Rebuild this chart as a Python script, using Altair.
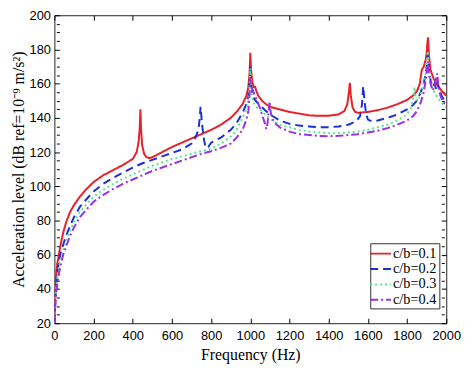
import altair as alt
import pandas as pd

series_names = ["c/b=0.1", "c/b=0.2", "c/b=0.3", "c/b=0.4"]
series_colors = ["#e8202a", "#1a2fd8", "#55e690", "#9a30e6"]
series_dash = [[1, 0], [8, 5], [2, 3], [8, 3, 2, 3]]

x_ticks = [0, 200, 400, 600, 800, 1000, 1200, 1400, 1600, 1800, 2000]
y_ticks = [20, 40, 60, 80, 100, 120, 140, 160, 180, 200]
y_minor = list(range(20, 201, 5))

freq_01 = [0, 3, 6, 10, 15, 20, 30, 45, 60, 80, 100, 130, 160, 200, 250, 300, 350, 400, 420, 430, 436, 439, 442, 448, 458, 470, 485, 500, 550, 600, 650, 700, 750, 800, 850, 900, 930, 960, 980, 990, 996, 1000, 1004, 1010, 1018, 1025, 1030, 1040, 1060, 1080, 1100, 1150, 1200, 1250, 1300, 1350, 1400, 1450, 1480, 1495, 1503, 1508, 1513, 1522, 1535, 1550, 1600, 1650, 1700, 1750, 1800, 1830, 1850, 1865, 1875, 1885, 1895, 1900, 1904, 1907, 1912, 1920, 1935, 1950, 1975, 2000]
acc_01 = [20, 32, 42, 50, 55, 58, 65, 73, 79, 85, 89, 94, 98, 102.5, 106.5, 109.5, 112.5, 116, 120, 126, 135, 145, 134, 124, 119, 117, 116.5, 117, 120, 123, 125.5, 128, 130.5, 133, 136, 140, 143.5, 148, 153, 158, 166, 178, 168, 161, 158, 158, 156, 153, 150, 148, 146.5, 145, 143.5, 142.5, 141.5, 141.2, 141.3, 142, 144, 148, 155, 160.5, 153, 146, 143.5, 143, 143.5, 144.5, 146, 148, 150.5, 153, 155.5, 160, 168, 170, 174, 178, 184, 187, 176, 168, 163, 160, 156, 153]

freq_02 = [0, 3, 6, 10, 15, 20, 30, 45, 60, 80, 100, 130, 160, 200, 250, 300, 350, 400, 450, 500, 550, 600, 650, 700, 720, 735, 742, 746, 750, 756, 764, 772, 785, 800, 850, 900, 930, 960, 980, 990, 996, 1000, 1004, 1010, 1020, 1035, 1050, 1075, 1100, 1150, 1200, 1250, 1300, 1350, 1400, 1450, 1500, 1540, 1560, 1570, 1576, 1582, 1590, 1600, 1620, 1650, 1700, 1750, 1800, 1830, 1850, 1870, 1885, 1895, 1902, 1906, 1912, 1920, 1930, 1940, 1948, 1955, 1965, 1980, 2000]
acc_02 = [20, 30, 38, 45, 50, 54, 60, 66, 71, 77, 82, 88, 92, 97, 101.5, 105, 108, 111, 113.5, 115.5, 117.5, 119.5, 121.5, 125, 128.5, 133, 140, 146.5, 141, 134, 127, 122.5, 123, 125.5, 128.5, 133, 137, 143, 148, 153, 159, 170, 160, 155, 151, 149, 147.5, 144.5, 142, 138.5, 136.5, 135.5, 135, 134.5, 134.5, 135, 136, 138, 141, 148, 158.5, 151, 143, 139, 138, 138.5, 140, 142, 145, 147.5, 150, 155, 160, 166, 172, 177, 168, 162, 158, 160, 157, 161, 156, 152, 149]

freq_03 = [0, 3, 6, 10, 15, 20, 30, 45, 60, 80, 100, 130, 160, 200, 250, 300, 350, 400, 450, 500, 550, 600, 650, 700, 750, 800, 850, 900, 930, 960, 980, 990, 996, 1000, 1004, 1010, 1020, 1035, 1050, 1075, 1100, 1150, 1200, 1250, 1300, 1350, 1400, 1450, 1500, 1550, 1600, 1650, 1700, 1750, 1800, 1820, 1832, 1838, 1845, 1855, 1870, 1885, 1895, 1902, 1906, 1912, 1920, 1935, 1950, 1975, 2000]
acc_03 = [20, 28, 35, 42, 47, 51, 57, 63, 68, 74, 79, 85, 89, 94, 98, 101.5, 104.5, 107, 109.5, 112, 114, 116, 117.5, 119, 120.5, 122, 125, 129, 133, 140, 145, 151, 159, 169, 158, 152, 148, 146, 145, 142, 139.5, 136, 134.5, 133, 132, 131.5, 131, 131, 131.5, 132, 133, 134.5, 136, 138.5, 142, 146, 152, 158, 151, 150, 154, 160, 166, 173, 179, 168, 160, 156, 153, 149, 146]

freq_04 = [0, 3, 6, 10, 15, 20, 30, 45, 60, 80, 100, 130, 160, 200, 250, 300, 350, 400, 450, 500, 550, 600, 650, 700, 750, 800, 850, 900, 930, 960, 980, 990, 996, 1000, 1004, 1010, 1020, 1035, 1050, 1065, 1075, 1082, 1088, 1093, 1098, 1103, 1110, 1125, 1150, 1200, 1250, 1300, 1350, 1400, 1450, 1500, 1550, 1600, 1650, 1700, 1750, 1800, 1830, 1850, 1870, 1885, 1895, 1902, 1906, 1912, 1920, 1930, 1940, 1948, 1954, 1960, 1970, 1985, 2000]
acc_04 = [20, 26, 32, 38, 43, 47, 53, 60, 65, 71, 76, 82, 86, 91, 95, 98.5, 101.5, 104, 106.5, 109, 111, 113, 115, 117, 119, 120.5, 122.5, 125, 128.5, 133, 139, 144, 153, 164, 160, 157, 154, 150, 145.5, 140, 136.5, 133.5, 137, 143, 149.5, 144, 140, 137, 134.5, 132, 130.5, 130, 129.5, 129.3, 129.5, 130, 130.5, 131.5, 132.5, 134, 136, 138.5, 141, 144, 149, 155, 162, 168, 173, 165, 160, 156, 158, 163, 166, 158, 153, 149, 148]

rows = []
for name, fs, vs in zip(series_names,
                        [freq_01, freq_02, freq_03, freq_04],
                        [acc_01, acc_02, acc_03, acc_04]):
    for f, v in zip(fs, vs):
        rows.append({"freq": f, "acc": v, "series": name})
df = pd.DataFrame(rows)

xscale = alt.Scale(domain=[0, 2000], nice=False)
yscale = alt.Scale(domain=[20, 200], nice=False)

lines = alt.Chart(df).mark_line(strokeWidth=2, clip=True).encode(
    x=alt.X("freq:Q", scale=xscale,
            axis=alt.Axis(orient="bottom", values=x_ticks, format="d", ticks=False, domain=False, grid=False,
                          labelFont="Liberation Sans", labelFontSize=13, labelColor="#000",
                          labelPadding=7, labelFlush=False,
                          title="Frequency (Hz)", titleFont="Liberation Serif", titleFontSize=16,
                          titleFontWeight="normal", titleColor="#000", titlePadding=4)),
    y=alt.Y("acc:Q", scale=yscale,
            axis=alt.Axis(orient="left", values=y_ticks, format="d", ticks=False, domain=False, grid=False,
                          labelFont="Liberation Sans", labelFontSize=13, labelColor="#000",
                          labelPadding=4, labelFlush=False,
                          title="Acceleration level (dB ref=10⁻⁹ m/s²)", titleFont="Liberation Serif",
                          titleFontSize=16, titleFontWeight="normal", titleColor="#000", titlePadding=3)),
    color=alt.Color("series:N", scale=alt.Scale(domain=series_names, range=series_colors),
                    legend=alt.Legend(title=None, orient="none", legendX=320, legendY=231,
                                      padding=2, strokeColor="#333", fillColor="#ffffff",
                                      labelFont="Liberation Serif", labelFontSize=14.5, labelColor="#000",
                                      symbolType="M-1.4,0H1.4", symbolSize=225, symbolStrokeWidth=2,
                                      symbolFillColor="transparent",
                                      rowPadding=0.6, labelOffset=4)),
    strokeDash=alt.StrokeDash("series:N", scale=alt.Scale(domain=series_names, range=series_dash)),
)

minor_size = {"condition": {"test": "datum.value % 20 === 0", "value": 5}, "value": 3}

ticks_a = alt.Chart(df).mark_line(opacity=0).encode(
    x=alt.X("freq:Q", scale=xscale,
            axis=alt.Axis(orient="bottom", values=x_ticks, labels=False, domain=False, grid=False,
                          tickSize=5, offset=-5, tickColor="#000", title=None)),
    y=alt.Y("acc:Q", scale=yscale,
            axis=alt.Axis(orient="left", values=y_minor, labels=False, domain=False, grid=False,
                          tickSize=minor_size, offset=-5, tickColor="#000", title=None)),
)

ticks_b = alt.Chart(df).mark_line(opacity=0).encode(
    x=alt.X("freq:Q", scale=xscale,
            axis=alt.Axis(orient="top", values=x_ticks, labels=False, domain=False, grid=False,
                          tickSize=5, offset=-5, tickColor="#000", title=None)),
    y=alt.Y("acc:Q", scale=yscale,
            axis=alt.Axis(orient="right", values=y_minor, labels=False, domain=False, grid=False,
                          tickSize=minor_size, offset=-5, tickColor="#000", title=None)),
)

chart = alt.layer(lines, ticks_a, ticks_b).resolve_axis(x="independent", y="independent").properties(
    width=397, height=312,
    autosize=alt.AutoSizeParams(type="none"),
    padding={"left": 47, "top": 5, "right": 20, "bottom": 40},
    background="#ffffff",
).configure_view(stroke="#222", strokeWidth=1)

chart.save("out.html", embed_options={"renderer": "svg", "actions": False})
